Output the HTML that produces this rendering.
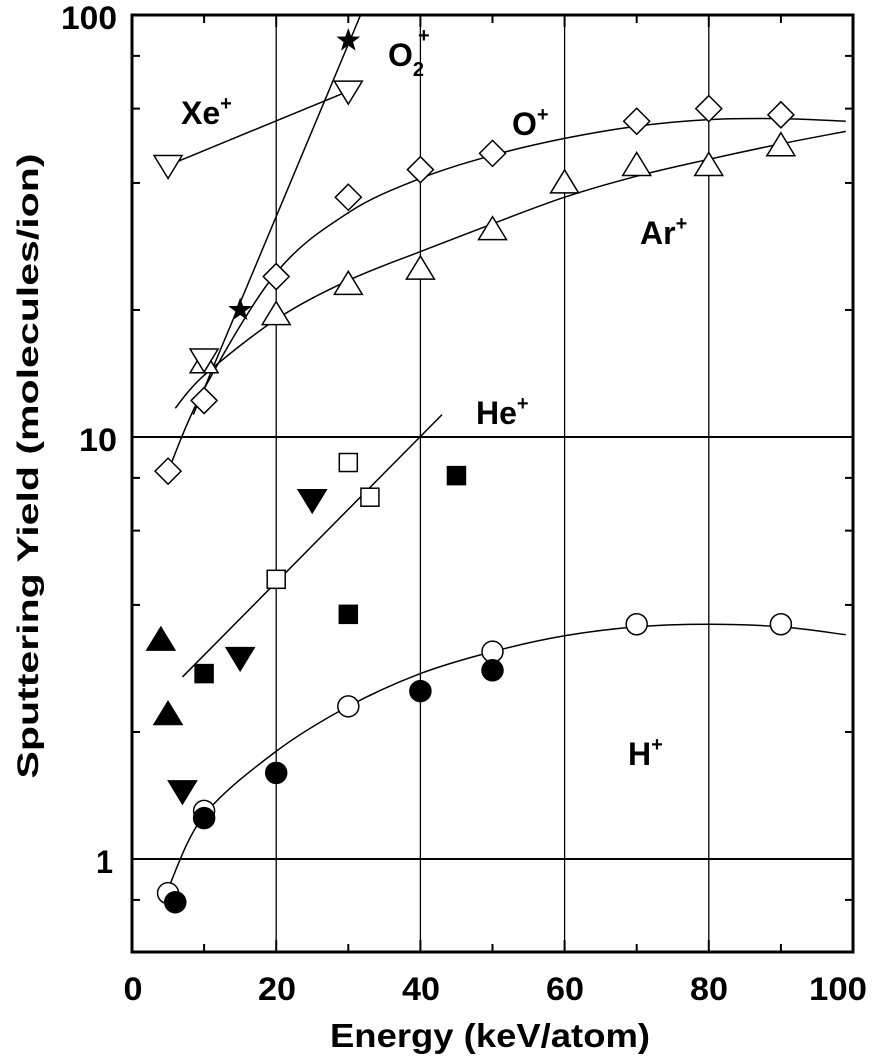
<!DOCTYPE html>
<html><head><meta charset="utf-8"><style>
body{margin:0;background:#fff}
svg text{font-family:"Liberation Sans",sans-serif;font-weight:bold;fill:#000}
</style></head><body>
<svg id="s" width="874" height="1056" viewBox="0 0 874 1056" xmlns="http://www.w3.org/2000/svg">
<g id="g"></g>
<g font-size="32" text-anchor="end">
<text x="117" y="29" textLength="56" lengthAdjust="spacingAndGlyphs">100</text>
<text x="117" y="451" textLength="38" lengthAdjust="spacingAndGlyphs">10</text>
<text x="113" y="873" textLength="17" lengthAdjust="spacingAndGlyphs">1</text>
</g>
<g font-size="32" text-anchor="middle">
<text x="133" y="1000" textLength="19" lengthAdjust="spacingAndGlyphs">0</text>
<text x="277" y="1000" textLength="38" lengthAdjust="spacingAndGlyphs">20</text>
<text x="421" y="1000" textLength="38" lengthAdjust="spacingAndGlyphs">40</text>
<text x="565" y="1000" textLength="38" lengthAdjust="spacingAndGlyphs">60</text>
<text x="709" y="1000" textLength="38" lengthAdjust="spacingAndGlyphs">80</text>
<text x="838" y="1000" textLength="58" lengthAdjust="spacingAndGlyphs">100</text>
</g>
<text x="490" y="1047" font-size="33" text-anchor="middle" textLength="320" lengthAdjust="spacingAndGlyphs">Energy  (keV/atom)</text>
<text transform="translate(38,466) rotate(-90)" font-size="30" text-anchor="middle" textLength="625" lengthAdjust="spacingAndGlyphs">Sputtering Yield (molecules/ion)</text>
<g font-size="32">
<text x="181" y="124">Xe<tspan dy="-14" font-size="20">+</tspan></text>
<text x="388" y="66">O<tspan dy="10" font-size="20">2</tspan><tspan dy="-34" dx="-6" font-size="20">+</tspan></text>
<text x="512" y="135">O<tspan dy="-14" font-size="20">+</tspan></text>
<text x="640" y="244">Ar<tspan dy="-14" font-size="20">+</tspan></text>
<text x="476" y="424">He<tspan dy="-14" font-size="20">+</tspan></text>
<text x="628" y="765">H<tspan dy="-14" font-size="20">+</tspan></text>
</g>
</svg>
<script>
const X=v=>132+7.21*v, Y=y=>859-422*Math.log10(y);
let h='';
const L=(a,b,c,d,w)=>h+=`<line x1="${a}" y1="${b}" x2="${c}" y2="${d}" stroke="#000" stroke-width="${w}"/>`;
[20,40,60,80].forEach(v=>L(X(v),15,X(v),952,1.3));
[10,1].forEach(v=>L(132,Y(v),853,Y(v),2));
[10,30,50,70,90].forEach(v=>{L(X(v),952,X(v),944,2);L(X(v),15,X(v),23,2)});
[20,40,60,80].forEach(v=>{L(X(v),952,X(v),940,2);L(X(v),15,X(v),27,2)});
[0.8,2,4,6,8,20,40,60,80].forEach(v=>{L(132,Y(v),140,Y(v),2);L(853,Y(v),845,Y(v),2)});
h+=`<rect x="132" y="15" width="721" height="937" fill="none" stroke="#000" stroke-width="3"/>`;
function curve(p){p=p.map(q=>[X(q[0]),Y(q[1])]);let d=`M${p[0]}`;
for(let i=0;i<p.length-1;i++){const a=p[i-1]||p[i],b=p[i],c=p[i+1],e=p[i+2]||c;
d+=`C${b[0]+(c[0]-a[0])/6},${b[1]+(c[1]-a[1])/6} ${c[0]-(e[0]-b[0])/6},${c[1]-(e[1]-b[1])/6} ${c[0]},${c[1]}`;}
h+=`<path d="${d}" fill="none" stroke="#000" stroke-width="1.5"/>`;}
curve([[5,8.3],[10,13],[20,24.5],[30,34],[40,41],[50,46.5],[60,51],[70,54.5],[80,56.5],[90,56.8],[99,56]]);
curve([[6,11.7],[10,14],[20,19],[30,23.5],[40,27.5],[50,32],[60,37],[70,41.5],[80,45.5],[90,49.5],[99,53]]);
curve([[5,0.85],[10,1.27],[20,1.8],[30,2.3],[40,2.75],[50,3.1],[60,3.38],[70,3.55],[80,3.6],[90,3.55],[99,3.4]]);
L(X(5),Y(44),X(30),Y(66),1.5);
L(X(8.5),Y(11.3),X(31.7),Y(100),1.5);
L(X(7),Y(2.7),X(43),Y(11.3),1.5);
const S=13;
const dia=(v,y)=>{const x=X(v),q=Y(y);h+=`<path d="M${x},${q-S}L${x+S},${q}L${x},${q+S}L${x-S},${q}Z" fill="#fff" stroke="#000" stroke-width="1.5"/>`};
const tu=(v,y,f)=>{const x=X(v),q=Y(y);h+=`<path d="M${x},${q-13}L${x+14},${q+10}L${x-14},${q+10}Z" fill="${f?'#000':'#fff'}" stroke="#000" stroke-width="1.5"/>`};
const td=(v,y,f)=>{const x=X(v),q=Y(y);h+=`<path d="M${x},${q+13}L${x+14},${q-10}L${x-14},${q-10}Z" fill="${f?'#000':'#fff'}" stroke="#000" stroke-width="1.5"/>`};
const sq=(v,y,f)=>{const x=X(v),q=Y(y);h+=`<rect x="${x-9}" y="${q-9}" width="18" height="18" fill="${f?'#000':'#fff'}" stroke="#000" stroke-width="1.5"/>`};
const ci=(v,y,f)=>{h+=`<circle cx="${X(v)}" cy="${Y(y)}" r="10.5" fill="${f?'#000':'#fff'}" stroke="#000" stroke-width="1.5"/>`};
const st=(v,y)=>{const x=X(v),q=Y(y);let d='';for(let i=0;i<10;i++){const r=i%2?5:12.5,a=-Math.PI/2+i*Math.PI/5;d+=(i?'L':'M')+(x+r*Math.cos(a))+','+(q+r*Math.sin(a));}h+=`<path d="${d}Z"/>`};
[[5,8.3],[10,12.2],[20,24],[30,37],[40,43],[50,47],[70,56],[80,60],[90,58]].forEach(p=>dia(...p));
[[10,15],[20,19.5],[30,23],[40,25],[50,31],[60,40],[70,44],[80,44],[90,49]].forEach(p=>tu(...p));
td(5,44);td(30,66);td(10,15.3);
st(15,20);st(30,87);
[[7,1.45],[15,3.0],[25,7.1]].forEach(p=>td(...p,1));
[[4,3.3],[5,2.2]].forEach(p=>tu(...p,1));
[[20,4.6],[30,8.7],[33,7.2]].forEach(p=>sq(...p));
[[10,2.75],[30,3.8],[45,8.1]].forEach(p=>sq(...p,1));
[[5,0.83],[10,1.3],[30,2.3],[50,3.1],[70,3.6],[90,3.6]].forEach(p=>ci(...p));
[[6,0.79],[10,1.25],[20,1.6],[40,2.5],[50,2.8]].forEach(p=>ci(...p,1));
document.getElementById('g').innerHTML=h;
</script>
</body></html>
